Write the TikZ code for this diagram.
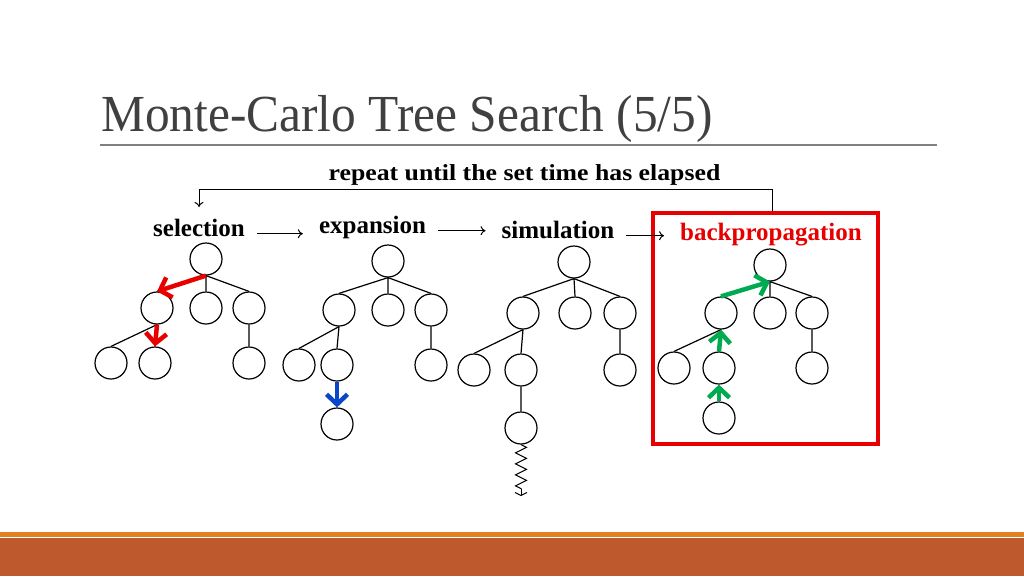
\documentclass[tikz,border=0pt]{standalone}
\usepackage{fontspec}
\setmainfont{Liberation Serif}
\newfontfamily\titlefont[FakeStretch=0.95]{Liberation Serif}
\newfontfamily\loopfont[FakeStretch=1.12]{Liberation Serif}
\usepackage{tikz}
\usetikzlibrary{arrows.meta, positioning, decorations.pathmorphing}
\definecolor{titlegray}{HTML}{404040}
\definecolor{rulegray}{HTML}{808080}
\definecolor{markred}{RGB}{232,0,0}
\definecolor{markgreen}{RGB}{0,170,80}
\definecolor{markblue}{RGB}{10,70,200}
\definecolor{footorange}{RGB}{224,128,32}
\definecolor{footbrown}{RGB}{190,88,45}

\begin{document}
\begin{tikzpicture}
  [
    x=1pt, y=-1pt,
    Round/.style={circle, draw=black, line width=1.2pt, minimum size=32pt, inner sep=0pt},
    Edge/.style={draw, line width=1.2pt},
    Label/.style={anchor=base, inner sep=0pt, font=\fontsize{25}{30}\selectfont\bfseries},
    Flow/.style={-{To[length=5pt,width=9pt]}, line width=1pt, shorten <=12pt, shorten >=16pt},
    Loop/.style={-{To[length=5pt,width=9pt]}, line width=1pt},
    Hot/.style={-{Straight Barb[length=10pt,width=21pt]}, line width=4.5pt},
    Box/.style={draw=markred, line width=4pt, minimum width=225pt, minimum height=231pt, inner sep=0pt}
  ]
  \fill[white] (0,0) rectangle (1024,576);
  \useasboundingbox (0,0) rectangle (1024,576);
  % Footer
  \fill[footorange] (0,532) rectangle (1024,537);
  \fill[footbrown] (0,538) rectangle (1024,576);
  % Title
  \node[anchor=base west, inner sep=0pt, text=titlegray,
    font=\titlefont\fontsize{52}{60}\selectfont] (title) at (101,131) {Monte-Carlo Tree Search (5/5)};
  \draw[rulegray, line width=1.2pt] (100,145) -- (937,145);

  % Stages
  \node[Label] (sel) at (199,236) {selection};
  \node[Label] (exp) at (372.5,233) {expansion};
  \node[Label] (sim) at (558,238) {simulation};
  \node[Label, text=markred] (back) at (771,240) {backpropagation};
  \node[anchor=base, inner sep=0pt, font=\loopfont\bfseries\fontsize{23}{28}\selectfont] (repeat) at (524.5,180)
    {repeat until the set time has elapsed};
  \node[Box] (bpbox) at (765.5,328.5) {};
  \draw[Flow] (sel.mid east) -- (sel.mid east -| exp.west);
  \draw[Flow] (exp.mid east) -- (exp.mid east -| sim.west);
  \draw[Flow] (sim.mid east) -- (sim.mid east -| back.west);
  \coordinate (loopR) at ([xshift=6.5pt]bpbox.north);
  \coordinate (loopL) at (199,207);
  \draw[Loop] (loopR) -- ++(0,-22) -| (loopL);

  % Nodes: selection
  \node[Round] (s0) at (206,259) {};
  \node[Round] (s1) at (157,308) {};
  \node[Round] (s2) at (206,308) {};
  \node[Round] (s3) at (249,308) {};
  \node[Round] (s11) at (111,363) {};
  \node[Round] (s12) at (155,363) {};
  \node[Round] (s31) at (249,363) {};
  % Nodes: expansion
  \node[Round] (e0) at (388,261) {};
  \node[Round] (e1) at (339,310) {};
  \node[Round] (e2) at (388,310) {};
  \node[Round] (e3) at (431,310) {};
  \node[Round] (e11) at (299,365) {};
  \node[Round] (e12) at (337,365) {};
  \node[Round] (e31) at (431,365) {};
  \node[Round] (e121) at (337,424) {};
  % Nodes: simulation
  \node[Round] (m0) at (574,262) {};
  \node[Round] (m1) at (523,313) {};
  \node[Round] (m2) at (575,313) {};
  \node[Round] (m3) at (620,313) {};
  \node[Round] (m11) at (474,370) {};
  \node[Round] (m12) at (521,370) {};
  \node[Round] (m31) at (620,370) {};
  \node[Round] (m121) at (521,428) {};
  \coordinate (mz) at (521,489);
  \coordinate (mend) at (521,496);
  % Nodes: backpropagation
  \node[Round] (b0) at (770,265) {};
  \node[Round] (b1) at (721,313) {};
  \node[Round] (b2) at (770,313) {};
  \node[Round] (b3) at (812,313) {};
  \node[Round] (b11) at (674,368) {};
  \node[Round] (b12) at (719,368) {};
  \node[Round] (b31) at (812,368) {};
  \node[Round] (b121) at (719,418) {};

  % Lines
  \path[Edge] (s0.south) -- (s1.north) (s0.south) -- (s2.north) (s0.south) -- (s3.north);
  \path[Edge] (s1.south) -- (s11.north) (s1.south) -- (s12.north) (s3) -- (s31);
  \path[Edge] (e0.south) -- (e1.north) (e0.south) -- (e2.north) (e0.south) -- (e3.north);
  \path[Edge] (e1.south) -- (e11.north) (e1.south) -- (e12.north) (e3) -- (e31);
  \path[Edge] (m0.south) -- (m1.north) (m0.south) -- (m2.north) (m0.south) -- (m3.north);
  \path[Edge] (m1.south) -- (m11.north) (m1.south) -- (m12.north) (m3) -- (m31) (m12) -- (m121);
  \path[Edge] (b0.south) -- (b1.north) (b0.south) -- (b2.north) (b0.south) -- (b3.north);
  \path[Edge] (b1.south) -- (b11.north) (b1.south) -- (b12.north) (b3) -- (b31);
  \draw[line width=1pt, decorate, decoration={zigzag, amplitude=5.5pt, segment length=11pt}] (m121.south) -- (mz);
  \draw[-{Straight Barb[length=3pt,width=12pt]}, line width=1pt] (mz) -- (mend);

  % Marked paths
  \draw[Hot, markred] (s0.south) -- (s1.north);
  \draw[Hot, markred] (s1.south) -- (s12.north);
  \draw[Hot, markblue] (e12.south) -- (e121.north);
  \draw[Hot, markgreen] (b1.north) -- (b0.south);
  \draw[Hot, markgreen] (b12.north) -- (b1.south);
  \draw[Hot, markgreen] (b121.north) -- (b12.south);
\end{tikzpicture}
\end{document}
